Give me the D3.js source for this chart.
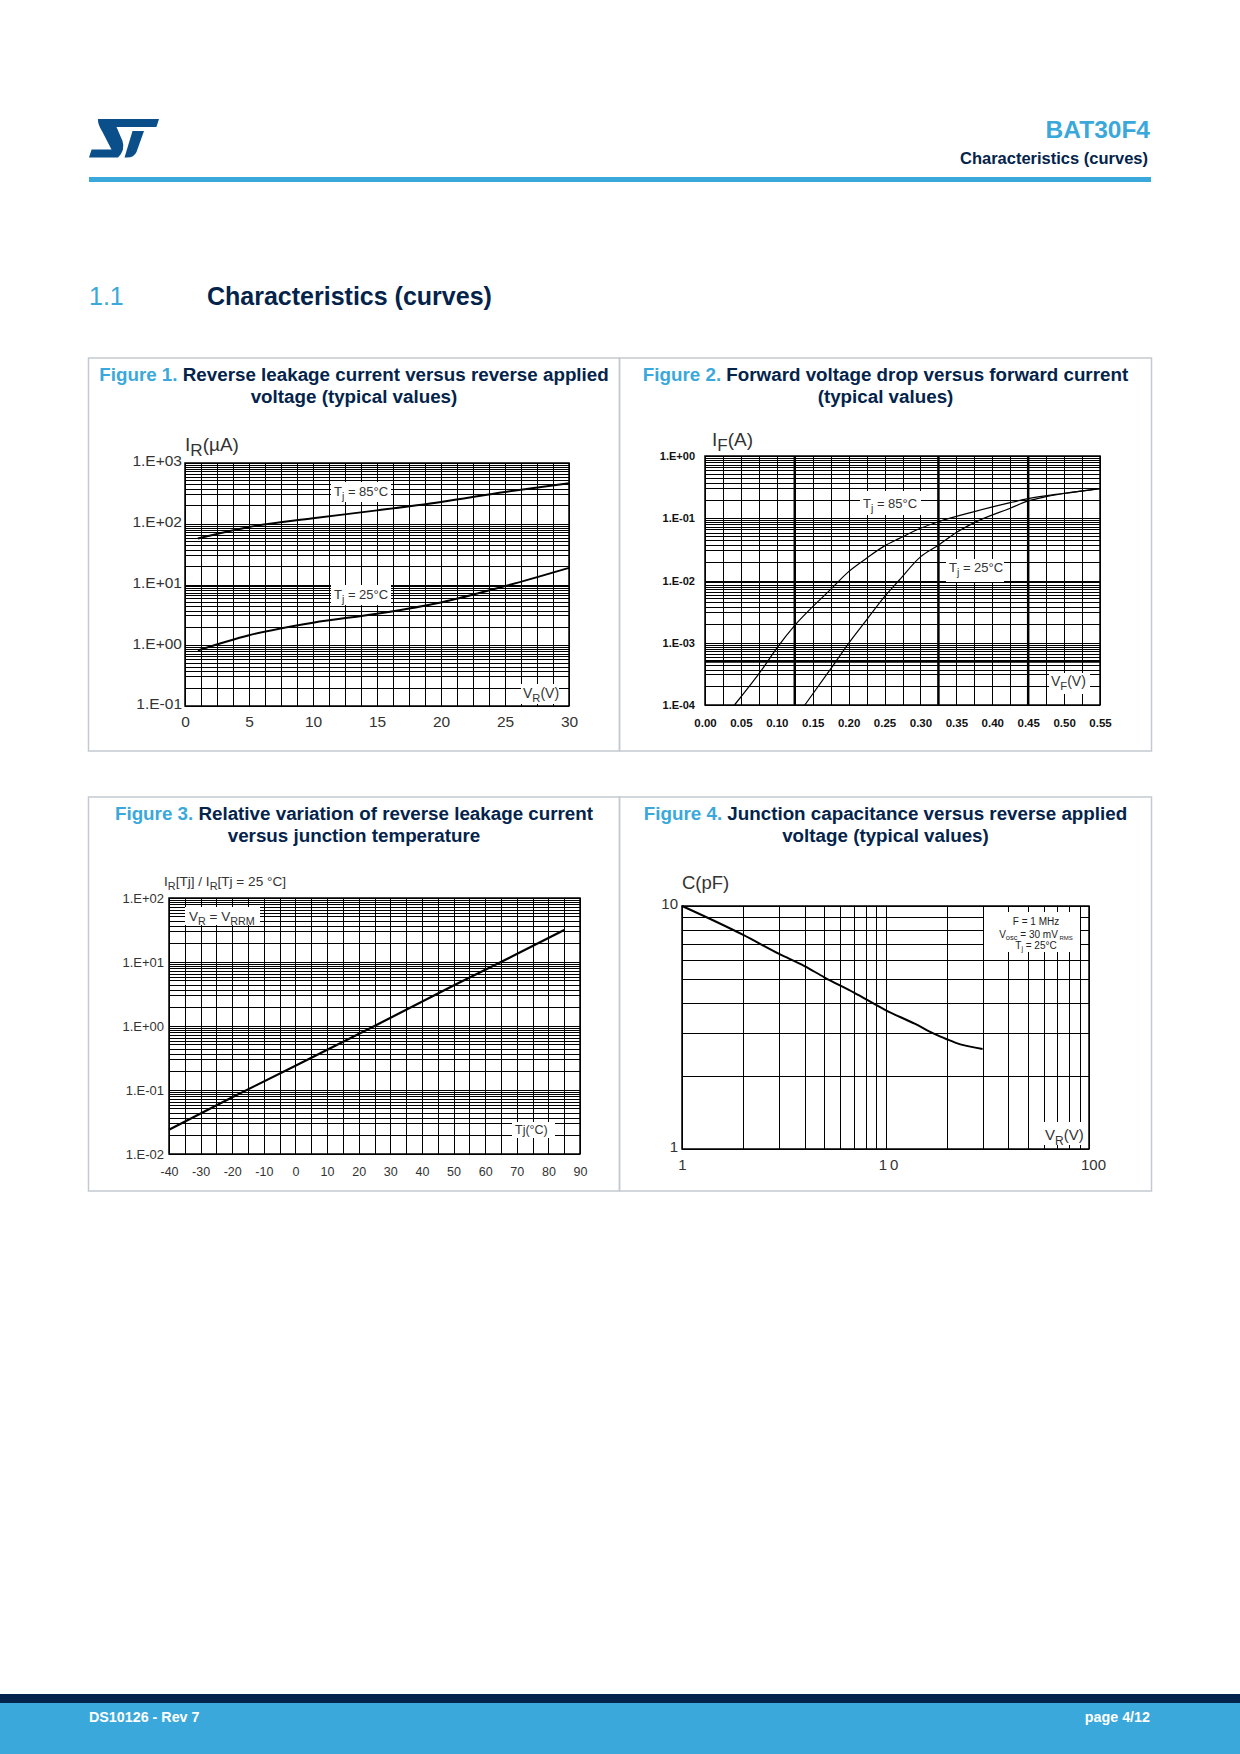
<!DOCTYPE html>
<html><head><meta charset="utf-8">
<script src="https://cdn.jsdelivr.net/npm/d3@7"></script>
<style>
body{margin:0;background:#fff;}
svg{display:block;font-family:"Liberation Sans",Arial,Helvetica,sans-serif;}
</style></head><body>
<svg id="page" width="1240" height="1754"></svg>
<script>
// ---------------- DATA ----------------
// Figure 1: reverse leakage current IR (uA) vs VR (V)
const fig1VR   = [1, 5, 10, 15, 20, 25, 30];
const fig1IR85 = [57, 88.5, 123, 166, 229, 333, 464];
const fig1IR25 = [0.82, 1.46, 2.35, 3.3, 5.06, 9.4, 18.8];
const fig1XTicks = [0, 5, 10, 15, 20, 25, 30];
const fig1YTicks = [0.1, 1, 10, 100, 1000];
const fig1YLabels = ["1.E-01", "1.E+00", "1.E+01", "1.E+02", "1.E+03"];

// Figure 2: forward current IF (A) vs VF (V)
const fig2VF85 = [0.041, 0.08, 0.10, 0.125, 0.15, 0.175, 0.20, 0.225, 0.25, 0.27, 0.30, 0.325, 0.375, 0.425, 0.45, 0.50, 0.55];
const fig2IF85 = [1e-4, 3.8e-4, 8.2e-4, 1.9e-3, 3.8e-3, 7.2e-3, 1.39e-2, 2.28e-2, 3.6e-2, 4.7e-2, 6.9e-2, 8.8e-2, 0.128, 0.178, 0.206, 0.252, 0.30];
const fig2VF25 = [0.139, 0.175, 0.20, 0.225, 0.25, 0.27, 0.30, 0.325, 0.35, 0.375, 0.425, 0.45, 0.475, 0.50, 0.55];
const fig2IF25 = [1e-4, 3.8e-4, 9.8e-4, 2.33e-3, 5.5e-3, 1.0e-2, 2.4e-2, 3.7e-2, 5.9e-2, 8.5e-2, 0.145, 0.19, 0.222, 0.25, 0.30];
const fig2XTicks = [0, 0.05, 0.10, 0.15, 0.20, 0.25, 0.30, 0.35, 0.40, 0.45, 0.50, 0.55];
const fig2XLabels = ["0.00","0.05","0.10","0.15","0.20","0.25","0.30","0.35","0.40","0.45","0.50","0.55"];
const fig2YTicks = [1e-4, 1e-3, 1e-2, 1e-1, 1];
const fig2YLabels = ["1.E-04", "1.E-03", "1.E-02", "1.E-01", "1.E+00"];

// Figure 3: IR[Tj]/IR[25C] vs Tj
const fig3Tj    = [-40, -20, 0, 25, 50, 70, 85];
const fig3Ratio = [0.024, 0.077, 0.24, 1.0, 4.3, 13.3, 31.6];
const fig3XTicks = [-40, -30, -20, -10, 0, 10, 20, 30, 40, 50, 60, 70, 80, 90];
const fig3YTicks = [0.01, 0.1, 1, 10, 100];
const fig3YLabels = ["1.E-02", "1.E-01", "1.E+00", "1.E+01", "1.E+02"];

// Figure 4: junction capacitance C (pF) vs VR (V)
const fig4VR = [1, 2, 3, 4, 5, 7, 10, 14, 17.5, 20, 22, 30];
const fig4C  = [10, 7.6, 6.35, 5.66, 5.09, 4.4, 3.73, 3.27, 2.97, 2.83, 2.74, 2.58];
const fig4XTicks = [1, 10, 100];
const fig4XLabels = ["1", "10", "100"];
const fig4YTicks = [1, 10];
const fig4YLabels = ["1", "10"];

// grid line multipliers inside one decade
const denseGrid = [2, 3.1, 3.7, 4.45, 5.2, 5.9, 6.6, 7.3, 8, 8.6, 9.3];
const plainGrid = [2, 3, 4, 5, 6, 7, 8, 9];

// ---------------- STYLE ----------------
const NAVY = "#03234b", BLUE = "#3aa8db", TXT = "#333";
const svg = d3.select("#page");

// ---------------- HEADER ----------------
const logo = svg.append("g").attr("transform", "translate(89,119)");
logo.append("path").attr("fill", "#0b4f8a")
  .attr("d", "M9 0 L70 0 L67.4 8 L27.5 8 L33.5 22 Q36.5 31 29 38.5 L0 38.5 L2.6 30.5 L22.5 30.5 L13.5 13 Q8.5 5 9 0 Z");
logo.append("path").attr("fill", "#0b4f8a")
  .attr("d", "M43.5 12 L55 12 L47.5 33 Q45 38.5 38 38.5 L35.5 38.5 Z");

svg.append("text").attr("x", 1150).attr("y", 138).attr("text-anchor", "end")
  .attr("font-size", 24.5).attr("font-weight", "bold").attr("fill", BLUE).text("BAT30F4");
svg.append("text").attr("x", 1148).attr("y", 164).attr("text-anchor", "end")
  .attr("font-size", 16.5).attr("font-weight", "bold").attr("fill", NAVY).text("Characteristics (curves)");
svg.append("rect").attr("x", 89).attr("y", 177).attr("width", 1062).attr("height", 5).attr("fill", BLUE);

svg.append("text").attr("x", 89).attr("y", 305).attr("font-size", 25).attr("fill", BLUE).text("1.1");
svg.append("text").attr("x", 207).attr("y", 305).attr("font-size", 25).attr("font-weight", "bold").attr("fill", NAVY).text("Characteristics (curves)");

// ---------------- FOOTER ----------------
svg.append("rect").attr("x", 0).attr("y", 1694).attr("width", 1240).attr("height", 9).attr("fill", "#03234b");
svg.append("rect").attr("x", 0).attr("y", 1703).attr("width", 1240).attr("height", 51).attr("fill", "#3aa8db");
svg.append("text").attr("x", 89).attr("y", 1722).attr("font-size", 14.3).attr("font-weight", "bold").attr("fill", "#fff").text("DS10126 - Rev 7");
svg.append("text").attr("x", 1150).attr("y", 1722).attr("text-anchor", "end").attr("font-size", 14.3).attr("font-weight", "bold").attr("fill", "#fff").text("page 4/12");

// ---------------- FIGURE BOXES ----------------
const boxes = [
  {x: 88.5, y: 358, w: 531, h: 393, n: "Figure 1.", l1: " Reverse leakage current versus reverse applied", l2: "voltage (typical values)"},
  {x: 619.5, y: 358, w: 532, h: 393, n: "Figure 2.", l1: " Forward voltage drop versus forward current", l2: "(typical values)"},
  {x: 88.5, y: 797, w: 531, h: 394, n: "Figure 3.", l1: " Relative variation of reverse leakage current", l2: "versus junction temperature"},
  {x: 619.5, y: 797, w: 532, h: 394, n: "Figure 4.", l1: " Junction capacitance versus reverse applied", l2: "voltage (typical values)"}
];
boxes.forEach(b => {
  svg.append("rect").attr("x", b.x).attr("y", b.y).attr("width", b.w).attr("height", b.h)
    .attr("fill", "none").attr("stroke", "#c4cacf").attr("stroke-width", 1.5);
  const cx = b.x + b.w / 2;
  const t = svg.append("text").attr("x", cx).attr("y", b.y + 22.5).attr("text-anchor", "middle")
    .attr("font-size", 18.8).attr("font-weight", "bold");
  t.append("tspan").attr("fill", BLUE).text(b.n);
  t.append("tspan").attr("fill", NAVY).text(b.l1);
  svg.append("text").attr("x", cx).attr("y", b.y + 45).attr("text-anchor", "middle")
    .attr("font-size", 18.8).attr("font-weight", "bold").attr("fill", NAVY).text(b.l2);
});

// ---------------- HELPERS ----------------
function rich(g, x, y, parts, size, opts) {
  opts = opts || {};
  const t = g.append("text").attr("x", x).attr("y", y).attr("font-size", size)
    .attr("fill", opts.fill || TXT).attr("text-anchor", opts.anchor || "start");
  if (opts.weight) t.attr("font-weight", opts.weight);
  let shift = 0;
  parts.forEach(p => {
    const target = p.sub ? Math.round(size * (p.shift || 0.32)) : 0;
    t.append("tspan").attr("dy", target - shift)
      .attr("font-size", p.sub ? size * (p.scale || 0.8) : size).text(p.t);
    shift = target;
  });
  return t;
}
const crisp = v => Math.round(v) + 0.5;

function panel(o) {
  const g = svg.append("g");
  const x = (o.xLog ? d3.scaleLog() : d3.scaleLinear()).domain(o.xDomain).range([o.x0, o.x1]);
  const y = d3.scaleLog().domain(o.yDomain).range([o.y1, o.y0]);

  // horizontal log grid
  const hVals = [];
  const lo = Math.round(Math.log10(o.yDomain[0])), hi = Math.round(Math.log10(o.yDomain[1]));
  for (let e = lo; e < hi; e++) {
    hVals.push(Math.pow(10, e));
    o.yMult.forEach(m => hVals.push(m * Math.pow(10, e)));
  }
  hVals.push(Math.pow(10, hi));
  g.append("g").selectAll("line").data(hVals).join("line")
    .attr("x1", o.x0).attr("x2", o.x1)
    .attr("y1", d => crisp(y(d))).attr("y2", d => crisp(y(d)))
    .attr("stroke", "#000").attr("stroke-width", 1).attr("shape-rendering", "crispEdges");

  // vertical grid
  g.append("g").selectAll("line").data(o.xGrid).join("line")
    .attr("y1", o.y0).attr("y2", o.y1)
    .attr("x1", d => crisp(x(d))).attr("x2", d => crisp(x(d)))
    .attr("stroke", "#000").attr("stroke-width", 1).attr("shape-rendering", "crispEdges");

  // thick lines
  (o.thickX || []).forEach(v => g.append("line").attr("x1", x(v)).attr("x2", x(v)).attr("y1", o.y0).attr("y2", o.y1)
    .attr("stroke", "#000").attr("stroke-width", 2.5));
  (o.thickY || []).forEach(v => g.append("line").attr("y1", y(v)).attr("y2", y(v)).attr("x1", o.x0).attr("x2", o.x1)
    .attr("stroke", "#000").attr("stroke-width", 2.5));

  // frame
  g.append("rect").attr("x", o.x0).attr("y", o.y0).attr("width", o.x1 - o.x0).attr("height", o.y1 - o.y0)
    .attr("fill", "none").attr("stroke", "#000").attr("stroke-width", 1.5);

  // curves
  const line = d3.line().x(d => x(d[0])).y(d => y(d[1])).curve(o.curve || d3.curveMonotoneX);
  o.series.forEach(s => {
    g.append("path").datum(s.xs.map((v, i) => [v, s.ys[i]])).attr("d", line)
      .attr("fill", "none").attr("stroke", "#000").attr("stroke-width", o.curveWidth)
      .attr("stroke-linejoin", "round").attr("stroke-linecap", "butt");
  });

  // axes
  const ax = g.append("g").attr("transform", `translate(0,${o.y1})`)
    .call(d3.axisBottom(x).tickValues(o.xTicks).tickFormat((d, i) => o.xLabels[i]).tickSize(0).tickPadding(o.xPad));
  ax.select(".domain").remove();
  ax.selectAll("text").attr("font-size", o.tickSize).attr("fill", TXT).attr("font-family", null)
    .attr("font-weight", o.tickWeight || "normal");
  if (o.xDx) ax.selectAll("text").attr("dx", (d, i) => o.xDx[i] || 0);
  if (o.xLetter) ax.selectAll("text").filter((d, i) => i === o.xLetter.i).attr("letter-spacing", o.xLetter.ls);
  const ay = g.append("g").attr("transform", `translate(${o.x0},${o.yShift || 0})`)
    .call(d3.axisLeft(y).tickValues(o.yTicks).tickFormat((d, i) => o.yLabels[i]).tickSize(0).tickPadding(o.yPad));
  ay.select(".domain").remove();
  ay.selectAll("text").attr("font-size", o.tickSizeY || o.tickSize).attr("fill", TXT).attr("font-family", null)
    .attr("font-weight", o.tickWeight || "normal");
  return {g, x, y};
}

function labelBox(g, rx, ry, rw, rh) {
  g.append("rect").attr("x", rx).attr("y", ry).attr("width", rw).attr("height", rh).attr("fill", "#fff");
}

// ---------------- FIGURE 1 ----------------
const p1 = panel({
  x0: 185, x1: 569, y0: 463, y1: 706,
  xDomain: [0, 30], yDomain: [0.1, 1000],
  xGrid: d3.range(0, 30.001, 1.25),
  yMult: denseGrid,
  series: [{xs: fig1VR, ys: fig1IR85}, {xs: fig1VR, ys: fig1IR25}],
  curveWidth: 2,
  xTicks: fig1XTicks, xLabels: fig1XTicks.map(String), yTicks: fig1YTicks, yLabels: fig1YLabels,
  tickSize: 15.5, xPad: 10, yPad: 3, yShift: -2
});
labelBox(p1.g, 331, 482, 60, 20);
rich(p1.g, 334, 496, [{t: "T"}, {t: "j", sub: true}, {t: " = 85°C"}], 13);
labelBox(p1.g, 331, 585, 60, 20);
rich(p1.g, 334, 599, [{t: "T"}, {t: "j", sub: true}, {t: " = 25°C"}], 13);
labelBox(p1.g, 521, 684, 38, 20);
rich(p1.g, 523, 698, [{t: "V"}, {t: "R", sub: true}, {t: "(V)"}], 14);
rich(p1.g, 185, 451, [{t: "I"}, {t: "R", sub: true, shift: 0.25, scale: 0.9}, {t: "(µA)"}], 19);

// ---------------- FIGURE 2 ----------------
const p2 = panel({
  x0: 705, x1: 1100, y0: 456, y1: 705,
  xDomain: [0, 0.55], yDomain: [1e-4, 1],
  xGrid: d3.range(0, 0.5501, 0.025),
  yMult: denseGrid,
  thickX: [0.125, 0.325, 0.45], thickY: [5e-4],
  series: [{xs: fig2VF85, ys: fig2IF85}, {xs: fig2VF25, ys: fig2IF25}],
  curveWidth: 1.2,
  xTicks: fig2XTicks, xLabels: fig2XLabels, yTicks: fig2YTicks, yLabels: fig2YLabels,
  tickSize: 11.5, tickSizeY: 11, tickWeight: "bold", xPad: 14, yPad: 10
});
p2.g.selectAll("text").attr("fill", "#111");
labelBox(p2.g, 860, 491, 61, 24);
rich(p2.g, 863, 508, [{t: "T"}, {t: "j", sub: true}, {t: " = 85°C"}], 13);
labelBox(p2.g, 946, 559, 58, 23);
rich(p2.g, 949, 572, [{t: "T"}, {t: "j", sub: true}, {t: " = 25°C"}], 13);
labelBox(p2.g, 1049, 673, 41, 21);
rich(p2.g, 1051, 686, [{t: "V"}, {t: "F", sub: true}, {t: "(V)"}], 14);
rich(p2.g, 712, 446, [{t: "I"}, {t: "F", sub: true, shift: 0.25, scale: 0.9}, {t: "(A)"}], 19);

// ---------------- FIGURE 3 ----------------
const p3 = panel({
  x0: 169, x1: 580, y0: 898, y1: 1154,
  xDomain: [-40, 90], yDomain: [0.01, 100],
  xGrid: d3.range(-40, 90.01, 5),
  yMult: denseGrid,
  series: [{xs: fig3Tj, ys: fig3Ratio}],
  curve: d3.curveLinear,
  curveWidth: 2.2,
  xTicks: fig3XTicks, xLabels: fig3XTicks.map(String), yTicks: fig3YTicks, yLabels: fig3YLabels,
  tickSize: 12.5, tickSizeY: 13, xPad: 13, yPad: 5
});
labelBox(p3.g, 185, 907, 75, 18);
rich(p3.g, 189, 921, [{t: "V"}, {t: "R", sub: true}, {t: " = V"}, {t: "RRM", sub: true}], 13.5);
labelBox(p3.g, 512, 1122, 43, 16);
rich(p3.g, 515, 1134, [{t: "Tj(°C)"}], 12.5);
rich(p3.g, 164, 886, [{t: "I"}, {t: "R", sub: true}, {t: "[Tj] / I"}, {t: "R", sub: true}, {t: "[Tj = 25 °C]"}], 13.6);

// ---------------- FIGURE 4 ----------------
const p4 = panel({
  x0: 682, x1: 1089, y0: 906, y1: 1149,
  xLog: true,
  xDomain: [1, 100], yDomain: [1, 10],
  xGrid: [1,2,3,4,5,6,7,8,9,10,20,30,40,50,60,70,80,90,100],
  yMult: plainGrid,
  series: [{xs: fig4VR, ys: fig4C}],
  curveWidth: 2,
  xTicks: fig4XTicks, xLabels: fig4XLabels, yTicks: fig4YTicks, yLabels: fig4YLabels,
  xLetter: {i: 1, ls: 3}, xDx: [0, 4, 4],
  tickSize: 15, xPad: 10, yPad: 4, yShift: -2
});
labelBox(p4.g, 984, 912, 96, 40);
rich(p4.g, 1036, 925, [{t: "F = 1 MHz"}], 10, {anchor: "middle", fill: "#222"});
rich(p4.g, 1036, 937.5, [{t: "V"}, {t: "osc", sub: true, scale: 0.75, shift: 0.2}, {t: " = 30 mV"}, {t: " RMS", sub: true, scale: 0.6, shift: 0.2}], 10, {anchor: "middle", fill: "#222"});
rich(p4.g, 1036, 949, [{t: "T"}, {t: "j", sub: true, scale: 0.7, shift: 0.2}, {t: " = 25°C"}], 10, {anchor: "middle", fill: "#222"});
labelBox(p4.g, 1043, 1122, 38, 23);
rich(p4.g, 1045, 1140, [{t: "V"}, {t: "R", sub: true}, {t: "(V)"}], 15);
rich(p4.g, 682, 889, [{t: "C(pF)"}], 18.5);
</script>
</body></html>
